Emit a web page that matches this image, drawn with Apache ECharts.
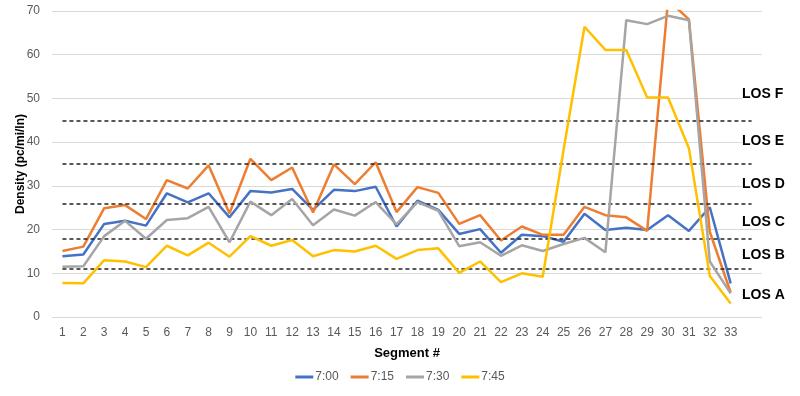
<!DOCTYPE html>
<html>
<head>
<meta charset="utf-8">
<script src="https://cdn.jsdelivr.net/npm/echarts@6/dist/echarts.min.js"></script>
<style>html,body{margin:0;padding:0;background:#fff}#c{width:800px;height:396px}</style>
</head>
<body>
<div id="c"></div>
<script>
var categories = ['1','2','3','4','5','6','7','8','9','10','11','12','13','14','15','16','17','18','19','20','21','22','23','24','25','26','27','28','29','30','31','32','33'];
var s700 = [13.9,14.3,21.3,22.0,20.9,28.3,26.2,28.3,22.8,28.8,28.5,29.3,24.5,29.1,28.8,29.8,20.7,26.6,24.5,19.0,20.1,14.7,18.8,18.5,17.2,23.6,19.9,20.4,19.9,23.3,19.7,25.1,7.7];
var s715 = [15.1,16.1,24.9,25.6,22.4,31.3,29.4,34.7,23.7,36.2,31.3,34.2,23.9,34.9,30.4,35.4,24.0,29.7,28.4,21.3,23.3,17.5,20.7,18.8,18.8,25.2,23.3,22.8,19.7,72.5,68.1,19.5,5.6];
var s730 = [11.5,11.6,18.5,22.0,17.9,22.2,22.6,25.2,17.1,26.4,23.3,27.0,21.0,24.6,23.2,26.3,21.2,26.3,24.3,16.2,17.1,14.0,16.4,15.1,16.7,18.1,14.8,67.9,67.0,68.9,67.9,12.7,5.4];
var s745 = [7.8,7.7,13.0,12.7,11.4,16.3,14.1,17.0,13.8,18.5,16.3,17.6,13.9,15.3,15.0,16.3,13.3,15.3,15.7,10.1,12.7,8.0,10.0,9.2,38.3,66.4,61.1,61.1,50.2,50.2,38.6,9.4,3.1];
var seriesNames = ['7:00','7:15','7:30','7:45'];
var losThresholds = [11,18,26,35,45];
var losLabels = ['LOS A','LOS B','LOS C','LOS D','LOS E','LOS F'];
var yTicks = [0,10,20,30,40,50,60,70];

var colors = ['#4472C4','#ED7D31','#A5A5A5','#FFC000'];
var font = 'Liberation Sans, Arial, sans-serif';
var xData = categories.concat(['']);
var lastIdx = categories.length; // extra empty slot

var chart = echarts.init(document.getElementById('c'), null, {renderer:'canvas'});

function mkSeries(name, data, i){
  return {
    name: name, type: 'line', data: data, showSymbol: false, symbol: 'none',
    lineStyle: {width: 2.5, color: colors[i]}, itemStyle: {color: colors[i]},
    z: 3 + i, clip: true
  };
}
var series = [mkSeries(seriesNames[0], s700, 0), mkSeries(seriesNames[1], s715, 1), mkSeries(seriesNames[2], s730, 2), mkSeries(seriesNames[3], s745, 3)];
series[0].markLine = {
  silent: true, symbol: ['none','none'], animation: false,
  label: {show: false},
  lineStyle: {type: [4,3], color: '#222', width: 1.5},
  data: losThresholds.map(function(v){ return [{coord:[0, v]}, {coord:[lastIdx, v]}]; })
};

var losY = [297, 257, 224, 186, 143, 96];
var graphics = losLabels.map(function(t, i){
  return {type:'text', left: 742, top: losY[i] - 9, silent: true, z: 100,
    style:{text: t, font: 'bold 14px ' + font, fill: '#000', backgroundColor: '#fff'}};
});

chart.setOption({
  animation: false,
  color: colors,
  grid: {left: 52, right: 38, top: 11, bottom: 79, containLabel: false, outerBoundsMode: 'none'},
  legend: {
    data: seriesNames, bottom: 8, left: 'center', itemWidth: 18, itemHeight: 3, itemGap: 12,
    icon: 'rect', textStyle: {fontFamily: font, fontSize: 12, color: '#595959', padding: [0,0,0,-3]}
  },
  xAxis: {
    type: 'category', data: xData, boundaryGap: true,
    name: 'Segment #', nameLocation: 'middle', nameGap: 30, nameMoveOverlap: false,
    nameTextStyle: {fontFamily: font, fontSize: 13, fontWeight: 'bold', color: '#000'},
    axisLine: {show: false}, axisTick: {show: false},
    axisLabel: {fontFamily: font, fontSize: 12, color: '#595959', margin: 10, interval: 0},
    splitLine: {show: false}
  },
  yAxis: {
    type: 'value', min: yTicks[0], max: yTicks[yTicks.length-1], interval: 10,
    name: 'Density (pc/mi/ln)', nameLocation: 'middle', nameGap: 25, nameMoveOverlap: false,
    nameTextStyle: {fontFamily: font, fontSize: 12, fontWeight: 'bold', color: '#000'},
    axisLine: {show: false}, axisTick: {show: false},
    axisLabel: {fontFamily: font, fontSize: 12, color: '#595959', margin: 12},
    splitLine: {lineStyle: {color: '#d9d9d9', width: 1}}
  },
  graphic: graphics,
  series: series
});
</script>
</body>
</html>
